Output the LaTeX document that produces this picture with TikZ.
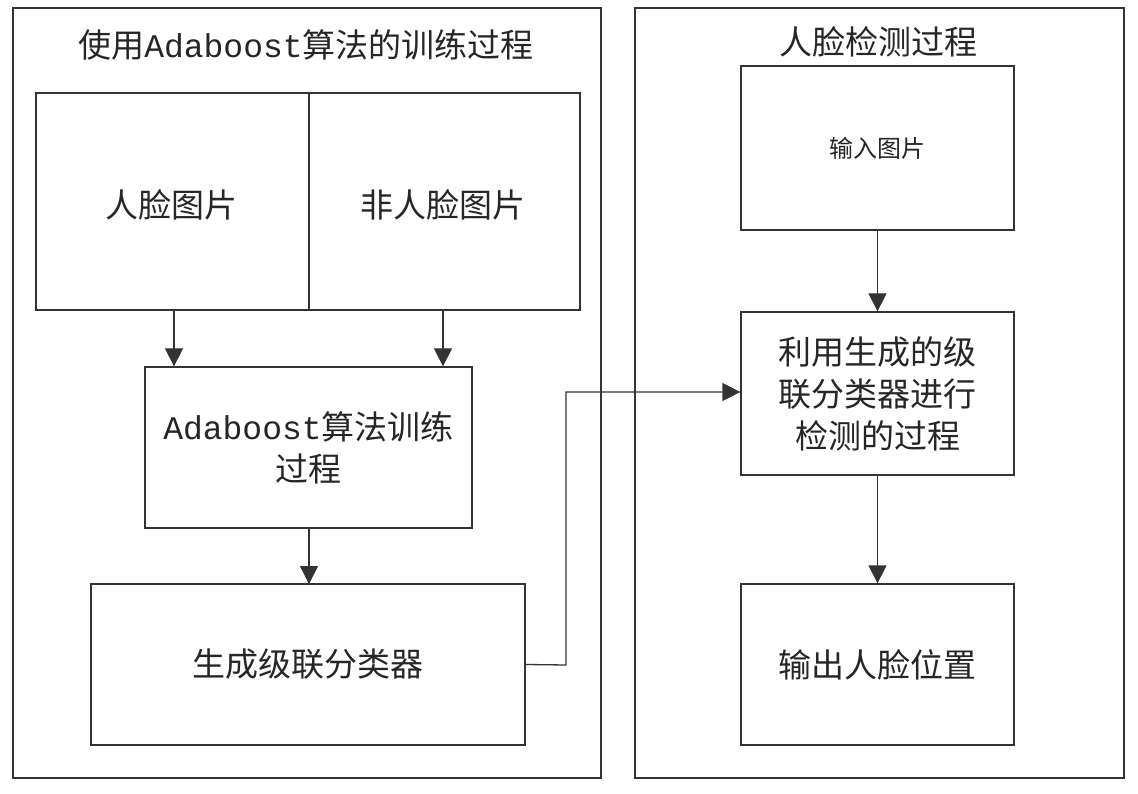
\documentclass[tikz,border=0pt]{standalone}
\usepackage{fontspec}
\setmainfont{Liberation Serif}
\newfontfamily\cjk{Noto Sans CJK SC}
\newfontfamily\lat{Liberation Mono}
\usetikzlibrary{arrows.meta}
\begin{document}
\begin{tikzpicture}[x=1pt,y=-1pt,
  line/.style={draw=black!80,line width=1.3pt},
  box/.style={line},
  arr/.style={line,-{Triangle[width=18pt,length=18pt]}},
  txt/.style={font=\cjk\fontsize{33}{42}\selectfont,align=center,text=black!85},
  stxt/.style={font=\cjk\fontsize{24}{30}\selectfont,align=center,text=black!85}]
\useasboundingbox (0,0) rectangle (1138,794);
\fill[white] (0,0) rectangle (1138,794);
\draw[box] (13,8) rectangle (601,778);
\draw[box] (635,8) rectangle (1124,778);
\node[txt] (t1) at (306,45) {使用{\lat Adaboost}算法的训练过程};
\node[txt] (t2) at (878,42) {人脸检测过程};
\draw[box] (36,93) rectangle (580,310);
\draw[line] (309,93) -- (309,310);
\node[txt] (face) at (171,205) {人脸图片};
\node[txt] (nonface) at (443,205) {非人脸图片};
\coordinate (f1) at (174,310);
\coordinate (f2) at (443,310);
\node[box,txt,minimum width=327pt,minimum height=161pt,inner sep=0] (ada) at (308.5,447.5) {{\lat Adaboost}算法训练\\过程};
\node[box,txt,minimum width=434pt,minimum height=161pt,inner sep=0] (gen) at (308,664.5) {生成级联分类器};
\node[box,stxt,minimum width=273pt,minimum height=164pt,inner sep=0] (in) at (877.5,148) {输入图片};
\node[box,txt,minimum width=273pt,minimum height=163pt,inner sep=0] (det) at (877.5,393.5) {利用生成的级\\联分类器进行\\检测的过程};
\node[box,txt,minimum width=273pt,minimum height=161pt,inner sep=0] (out) at (877.5,664.5) {输出人脸位置};
\draw[arr] (f1) -- (f1 |- ada.north);
\draw[arr] (f2) -- (f2 |- ada.north);
\draw[arr] (ada.south -| 309,0) -- (309,584);
\draw[arr] (in) -- (det);
\draw[arr] (det) -- (out);
\coordinate (c1) at (566,665);
\draw[arr] (gen.east) -- (c1) -- (566,392) -- (det.west |- 0,392);
\end{tikzpicture}
\end{document}
